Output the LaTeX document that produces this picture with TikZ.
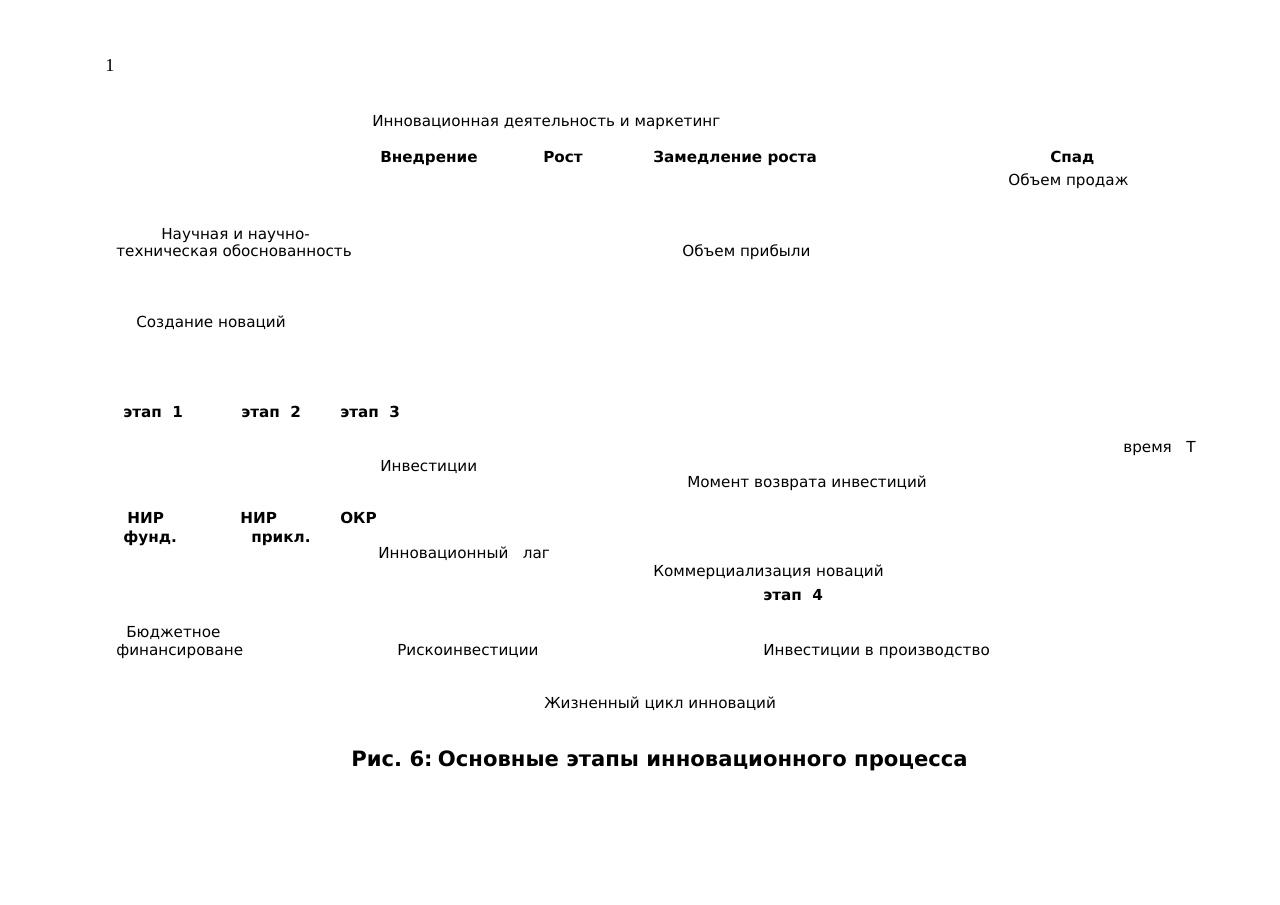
\documentclass[tikz,border=0pt]{standalone}
\usepackage{fontspec}
\setmainfont{DejaVu Sans}
\newfontfamily\numfont{Liberation Serif}
\frenchspacing
\begin{document}
\begin{tikzpicture}[x=0.6578pt,y=-0.6578pt,
  lbl/.style={anchor=west,inner sep=0pt,text height=0.73em,text depth=0pt,font=\fontsize{10}{12}\selectfont},
  blbl/.style={lbl,font=\fontsize{10}{12}\selectfont\bfseries},
  ml/.style={anchor=center,inner sep=0pt,align=center,font=\fontsize{10}{11.5}\selectfont}]
\useasboundingbox (0,0) rectangle (1280,905);
\node[anchor=west,inner sep=0pt,text height=0.68em,text depth=0pt,font=\numfont\fontsize{12}{14}\selectfont] (pg) at (105,66) {1};
\node[lbl] (title) at (372,121) {Инновационная деятельность и маркетинг};
\node[blbl] (vn) at (380,157) {Внедрение};
\node[blbl] (rost) at (543,157) {Рост};
\node[blbl] (zam) at (653,157) {Замедление роста};
\node[blbl] (spad) at (1050,157) {Спад};
\node[lbl] (prod) at (1008,180) {Объем продаж};
\node[lbl] (nauch1) at (161,234) {Научная и научно-};
\node[lbl] (nauch2) at (116,251) {техническая обоснованность};
\node[lbl] (prib) at (682,251) {Объем прибыли};
\node[lbl] (sozd) at (136,322) {Создание новаций};
\node[blbl] (e1) at (123,412) {этап\ \ 1};
\node[blbl] (e2) at (241,412) {этап\ \ 2};
\node[blbl] (e3) at (340,412) {этап\ \ 3};
\node[lbl] (vrem) at (1123,447) {время\ \ \ Т};
\node[lbl] (inv) at (380,466) {Инвестиции};
\node[lbl] (mom) at (687,482) {Момент возврата инвестиций};
\node[blbl] (nir1) at (127,518) {НИР};
\node[blbl] (fund) at (123,537) {фунд.};
\node[blbl] (nir2) at (240,518) {НИР};
\node[blbl] (prikl) at (251,537) {прикл.};
\node[blbl] (okr) at (340,518) {ОКР};
\node[lbl] (lag) at (378,553) {Инновационный\ \ \ лаг};
\node[lbl] (komm) at (653,571) {Коммерциализация новаций};
\node[blbl] (e4) at (763,595) {этап\ \ 4};
\node[lbl] (budg1) at (126,632) {Бюджетное};
\node[lbl] (budg2) at (116,650) {финансироване};
\node[lbl] (risk) at (397,650) {Рискоинвестиции};
\node[lbl] (proizv) at (763,650) {Инвестиции в производство};
\node[lbl] (zhc) at (544,703) {Жизненный цикл инноваций};
\node[anchor=west,inner sep=0pt,text height=0.73em,text depth=0pt,font=\fontsize{13.9}{16}\selectfont\bfseries] (cap) at (351,761) {Рис. 6:\hspace{-0.1em} Основные этапы инновационного процесса};
\end{tikzpicture}
\end{document}
